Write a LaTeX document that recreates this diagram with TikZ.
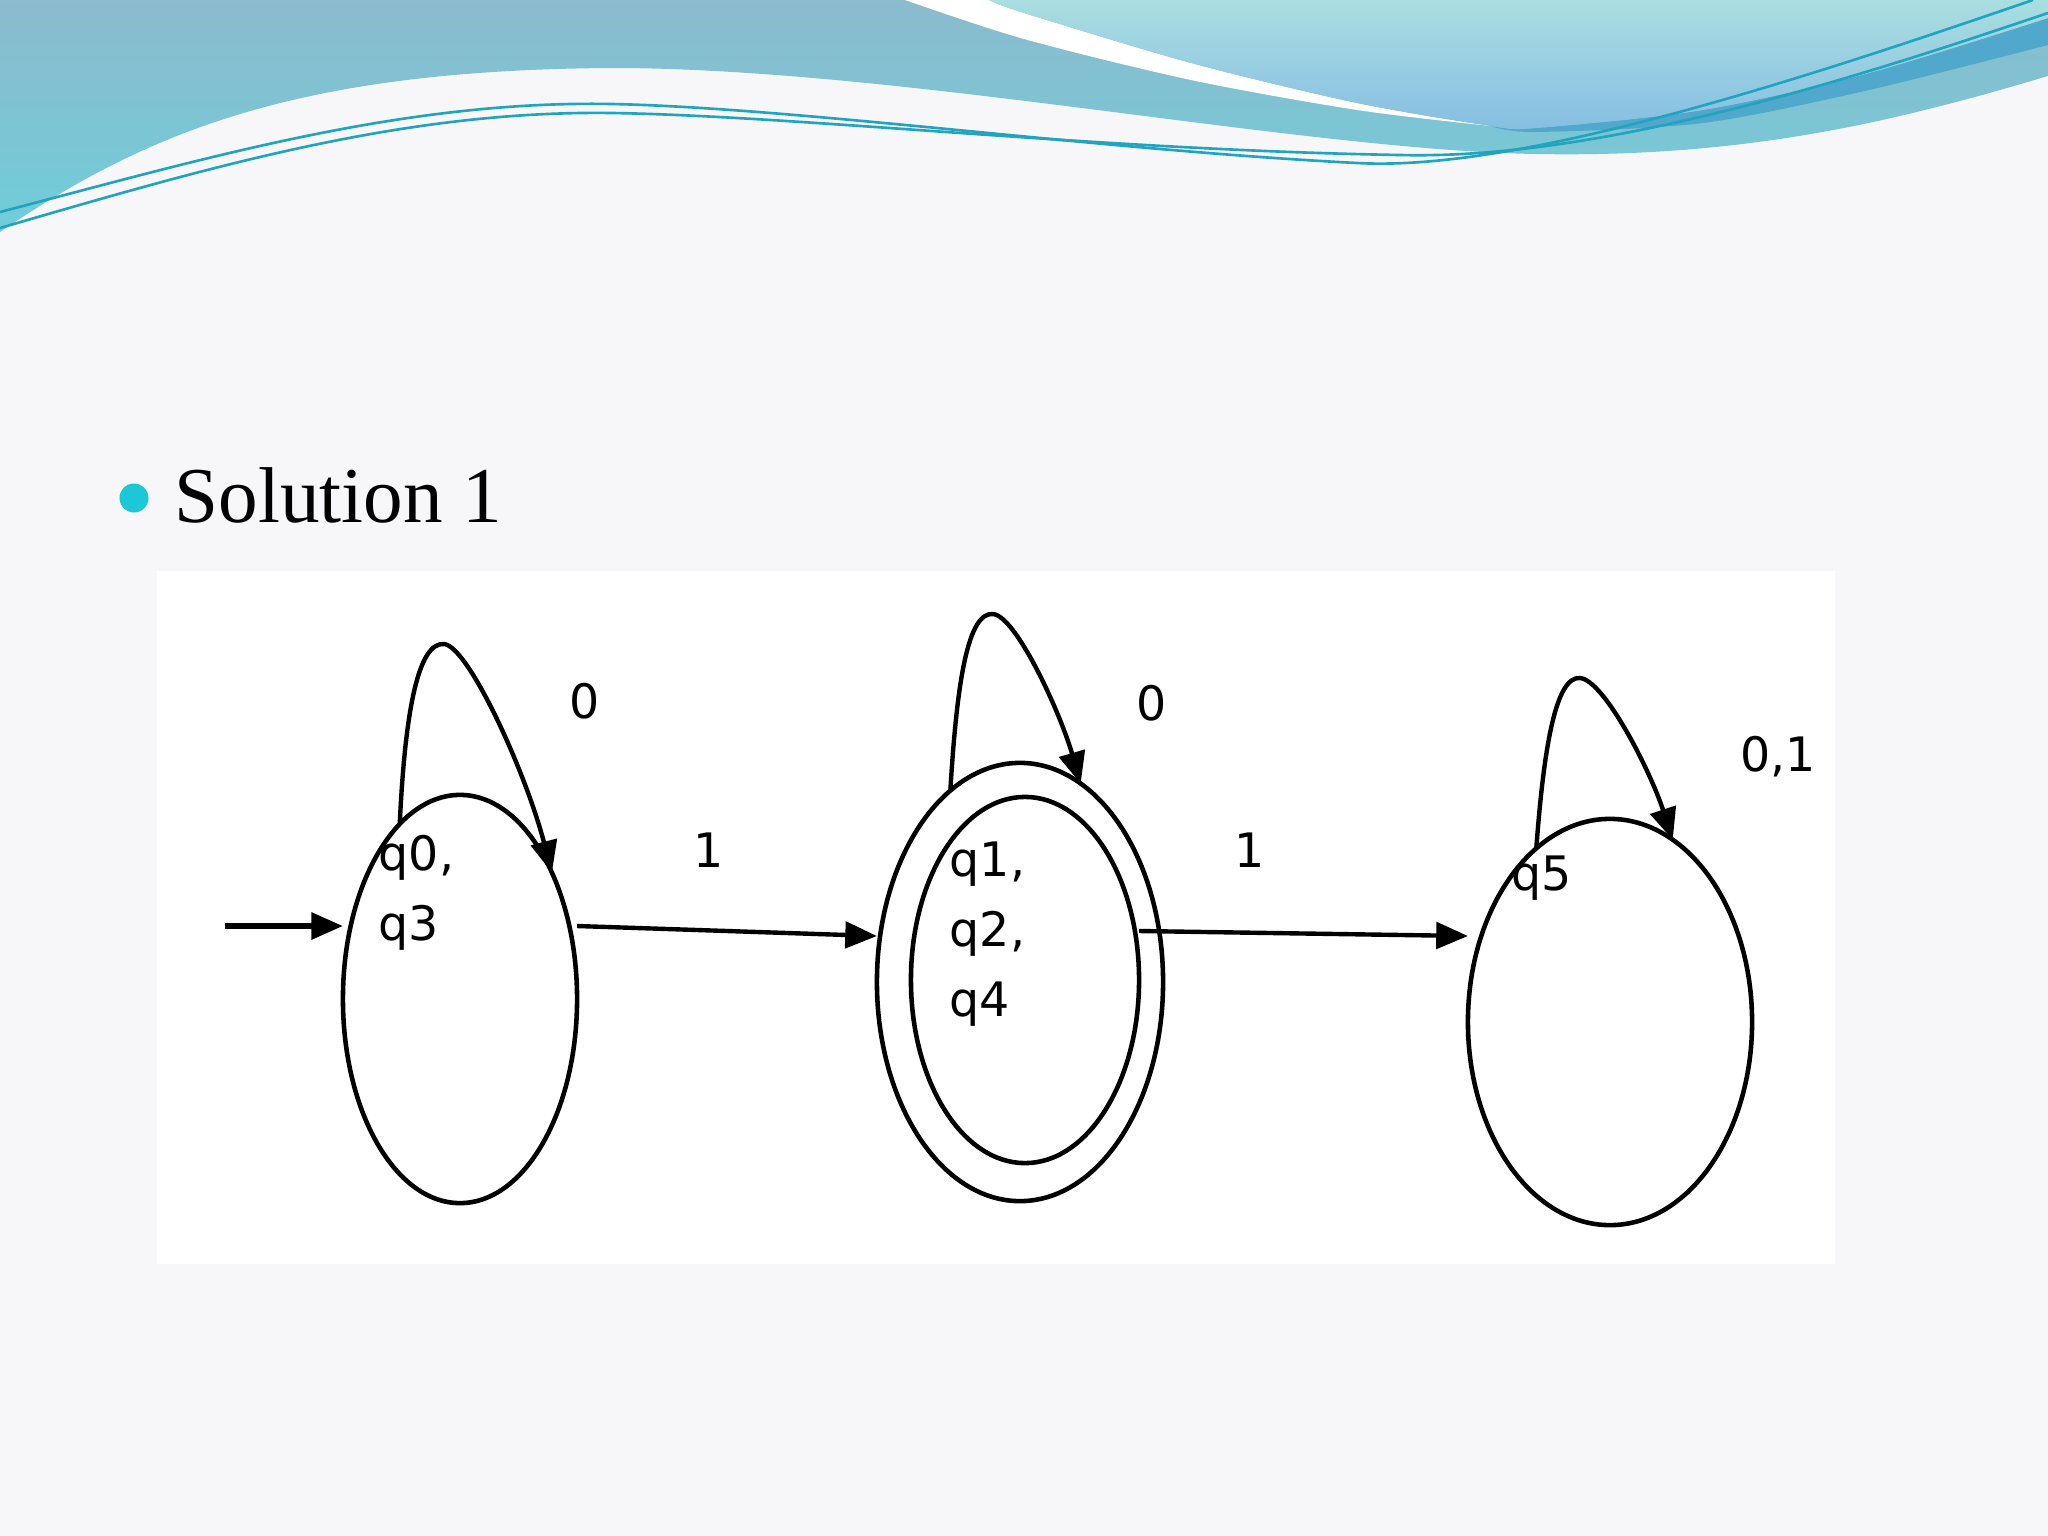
\documentclass[tikz,border=0pt]{standalone}
\usepackage{fontspec}
\newfontfamily\diagfont{DejaVu Sans}
\newfontfamily\titlefont{Liberation Serif}
\usetikzlibrary{arrows.meta,shapes.geometric}
\definecolor{bgcol}{RGB}{247,247,249}
\definecolor{bandtop}{RGB}{139,187,205}
\definecolor{bandbot}{RGB}{112,205,218}
\definecolor{lighttop}{RGB}{170,222,225}
\definecolor{lightbot}{RGB}{134,190,226}
\definecolor{darkband}{RGB}{80,168,204}
\definecolor{thinline}{RGB}{34,164,190}
\definecolor{bulletcol}{RGB}{28,200,216}
\tikzset{
  statebox/.style={ellipse, draw=black, line width=1.3pt, inner sep=0pt, outer sep=0pt},
  edge/.style={draw=black, line width=1.25pt, -{Triangle[length=9pt,width=7.5pt]}},
  lbl/.style={font=\diagfont\fontsize{13.5}{19.5}\selectfont, inner sep=0pt},
  statetext/.style={font=\diagfont\fontsize{13.5}{20}\selectfont, align=left, anchor=west, inner sep=0pt},
  thin line/.style={draw=thinline, line width=0.75pt}
}
\begin{document}
\begin{tikzpicture}[x=0.01cm, y=-0.01cm]
\useasboundingbox (0,0) rectangle (2048,1536);
\fill[bgcol] (0,0) rectangle (2048,1536);
% banner band
\shade[top color=bandtop, bottom color=bandbot] (0,0) -- (0,232) .. controls (150,130) and (300,70) .. (612,68) .. controls (900,68) and (1300,150) .. (1536,154) .. controls (1750,158) and (1900,120) .. (2048,76) -- (2048,0) -- cycle;
% dark band on the right
\fill[darkband] plot[smooth] coordinates {(1491,126) (1536,128) (1703,110) (1869,73) (2048,18)} -- (2048,45) -- plot[smooth] coordinates {(2048,45) (1869,90) (1703,123) (1536,132) (1491,126)} -- cycle;
% white sliver
\fill[white] plot[smooth] coordinates {(905,0) (1024,39) (1191,80) (1357,110) (1491,126)} -- plot[smooth] coordinates {(1491,126) (1357,103) (1191,63) (1024,13) (989,0)} -- cycle;
% light region
\shade[top color=lighttop, bottom color=lightbot] (989,0) -- (2048,0) -- (2048,18) -- plot[smooth] coordinates {(2048,18) (1869,73) (1703,110) (1536,128) (1491,126) (1357,103) (1191,63) (1024,13) (989,0)} -- cycle;
% thin lines
\draw[thin line] (0,212) .. controls (200,160) and (400,100) .. (612,104) .. controls (800,108) and (1100,150) .. (1357,163) .. controls (1520,172) and (1800,80) .. (2033,0);
\draw[thin line] (0,228) .. controls (200,170) and (400,110) .. (612,113) .. controls (800,116) and (1100,150) .. (1400,155) .. controls (1600,160) and (1850,80) .. (2048,13);
% title
\node[circle, fill=bulletcol, minimum size=0.29cm, inner sep=0pt] (bullet) at (134,498) {};
\node[anchor=base west, font=\titlefont\fontsize{22.5}{26}\selectfont, inner sep=0pt] (title) at (174,522) {Solution 1};
% diagram area
\fill[white] (157,571) rectangle (1835,1264);
% states
\node[statebox, minimum width=2.34cm, minimum height=4.08cm] (A) at (460,999) {};
\node[statebox, minimum width=2.86cm, minimum height=4.38cm] (B) at (1020,982) {};
\node[statebox, minimum width=2.28cm, minimum height=3.66cm] (Bi) at (1025,980) {};
\node[statebox, minimum width=2.84cm, minimum height=4.06cm] (C) at (1610,1022) {};
\node[statetext] (tA) at (378,893) {q0,\\q3};
\node[statetext] (tB) at (949,934) {q1,\\q2,\\q4};
\node[statetext] (tC) at (1511,878) {q5};
% helper coordinates
\coordinate (init) at (225,926);
\coordinate (yab) at (0,926);
\coordinate (yab2) at (0,936);
\coordinate (ybc) at (0,931);
\coordinate (pkA) at (444,644);
\coordinate (pkB) at (993,614);
\coordinate (pkC) at (1580,678);
% edges
\draw[edge, line width=1.5pt] (init) -- (init -| A.west);
\draw[edge] (A.east |- yab) -- (B.west |- yab2);
\draw[edge] (Bi.east |- ybc) -- (C.west |- yab2);
% loops
\draw[edge] (A.109) .. controls (405,712) and (418,642) .. (pkA) .. controls (468,646) and (525,770) .. (A.54);
\draw[edge] (B.110) .. controls (957,680) and (968,612) .. (pkB) .. controls (1016,616) and (1060,712) .. (B.73);
\draw[edge] (C.113) .. controls (1544,745) and (1556,676) .. (pkC) .. controls (1604,680) and (1650,770) .. (C.71);
% labels
\node[lbl] (l0a) at (585,701) {0};
\node[lbl] (l1a) at (709,850) {1};
\node[lbl] (l0b) at (1152,703) {0};
\node[lbl] (l1b) at (1250,850) {1};
\node[lbl] (l01) at (1778,757) {0,1};
\end{tikzpicture}
\end{document}
